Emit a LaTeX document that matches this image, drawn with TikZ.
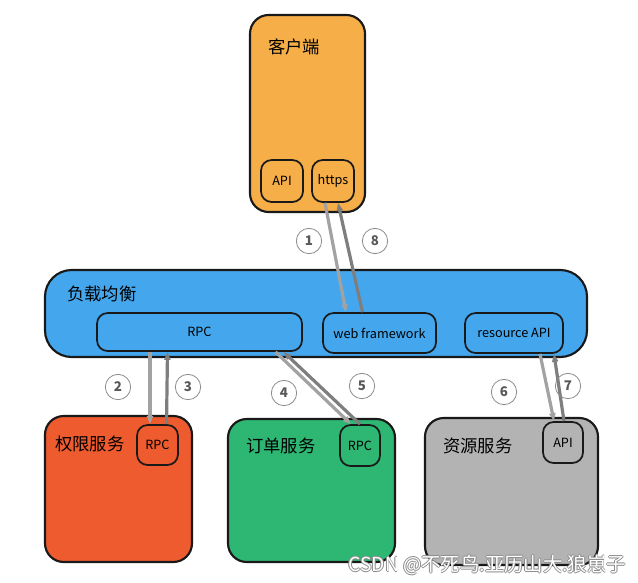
\documentclass[tikz,border=0pt]{standalone}
\usepackage{fontspec}
\setmainfont{Noto Sans CJK SC}
\usetikzlibrary{calc,arrows.meta}
\definecolor{clientorange}{HTML}{F6AE48}
\definecolor{lbblue}{HTML}{44A7EE}
\definecolor{authred}{HTML}{EE5B2F}
\definecolor{ordergreen}{HTML}{2EB673}
\definecolor{resgray}{HTML}{B3B3B3}
\definecolor{reqline}{HTML}{A2A2A2}
\definecolor{respline}{HTML}{7E7E7E}
\tikzset{
    box/.style={draw=black!90, line width=1.6pt, rounded corners=14pt, inner sep=0pt},
    port/.style={draw=black!90, line width=1.3pt, rounded corners=8pt, inner sep=0pt,
        font=\fontsize{9.5}{11}\selectfont},
    title/.style={anchor=west, inner sep=0pt, font=\fontsize{13}{15}\selectfont},
    step num/.style={circle, draw=black!45, line width=0.6pt, minimum size=19pt, inner sep=0pt,
        text=black!65, font=\bfseries\fontsize{10}{12}\selectfont},
    flow/.style={line width=2.4pt, -{Triangle[length=6pt,width=4.5pt]}},
    watermark/.style={anchor=east, inner sep=0pt, font=\fontsize{14.5}{16}\selectfont},
}
\begin{document}
\begin{tikzpicture}[x=0.75pt,y=-0.75pt]
    \useasboundingbox (0,0) rectangle (638,582);

    % client
    \node[box, fill=clientorange, minimum width=86.25pt, minimum height=147.75pt] (client) at (307.5,113.5) {};
    \node[title] (clientname) at (268,47) {客户端};
    \node[port, minimum size=31.5pt] (capi) at (282,181) {API};
    \node[port, minimum size=31.5pt] (https) at (333,181) {https};

    % load balancer
    \node[box, fill=lbblue, rounded corners=20pt, minimum width=406.5pt, minimum height=65.25pt] (lb) at (316,313.5) {};
    \node[title] (lbname) at (67,294) {负载均衡};
    \node[port, minimum width=153.75pt, minimum height=28.5pt] (rpc) at (199.5,332) {RPC};
    \node[port, minimum width=84.75pt, minimum height=30pt] (web) at (379.5,333) {web framework};
    \node[port, minimum width=73.5pt, minimum height=30pt] (resapi) at (514,333) {resource API};

    % services
    \node[box, fill=authred, minimum width=110.25pt, minimum height=109.5pt] (auth) at (118.5,489) {};
    \node[title] (authname) at (55,444) {权限服务};
    \node[port, minimum width=30.75pt, minimum height=30pt] (authrpc) at (157.5,445) {RPC};

    \node[box, fill=ordergreen, minimum width=125.25pt, minimum height=107.25pt] (order) at (311.5,490.5) {};
    \node[title] (ordername) at (246,446) {订单服务};
    \node[port, minimum width=30pt, minimum height=30.75pt] (orderrpc) at (360,445.5) {RPC};

    \node[box, fill=resgray, minimum width=129.75pt, minimum height=110.25pt] (res) at (511.5,491.5) {};
    \node[title] (resname) at (443,446) {资源服务};
    \node[port, minimum width=30pt, minimum height=30.75pt] (resport) at (563,442.5) {API};

    % calls
    \draw[flow, reqline] ($(https.south)+(-8,0)$) -- ($(web.north)+(-33.5,0)$);
    \draw[flow, respline] ($(web.north)+(-17,0)$) -- ($(https.south)+(5,0)$);
    \draw[flow, reqline] ($(rpc.south)+(-49.5,0)$) -- ($(authrpc.north)+(-7.5,0)$);
    \draw[flow, respline] ($(authrpc.north)+(9,0)$) -- ($(rpc.south)+(-32,0)$);
    \draw[flow, reqline] ($(rpc.south)+(76,0)$) -- ($(orderrpc.north)+(-9,0)$);
    \draw[flow, respline] ($(orderrpc.north)+(0,0)$) -- ($(rpc.south)+(84,0)$);
    \draw[flow, reqline] ($(resapi.south)+(26,0)$) -- ($(resport.north)+(-9,0)$);
    \draw[flow, respline] ($(resport.north)+(1,0)$) -- ($(resapi.south)+(40,0)$);

    % step numbers
    \node[step num] (s1) at (309,241) {1};
    \node[step num] (s8) at (375,241) {8};
    \node[step num] (s2) at (118,387) {2};
    \node[step num] (s3) at (188,387) {3};
    \node[step num] (s4) at (284,393) {4};
    \node[step num] (s5) at (362,386) {5};
    \node[step num] (s6) at (504,392) {6};
    \node[step num] (s7) at (568,386) {7};

    % watermark, outlined
    \foreach \dx/\dy in {-0.8/0,0.8/0,0/-0.8,0/0.8}
        \node[watermark, text=black!45] at (626+\dx,565+\dy) {CSDN @不死鸟.亚历山大.狼崽子};
    \node[watermark, text=white] (credit) at (626,565) {CSDN @不死鸟.亚历山大.狼崽子};
\end{tikzpicture}
\end{document}
